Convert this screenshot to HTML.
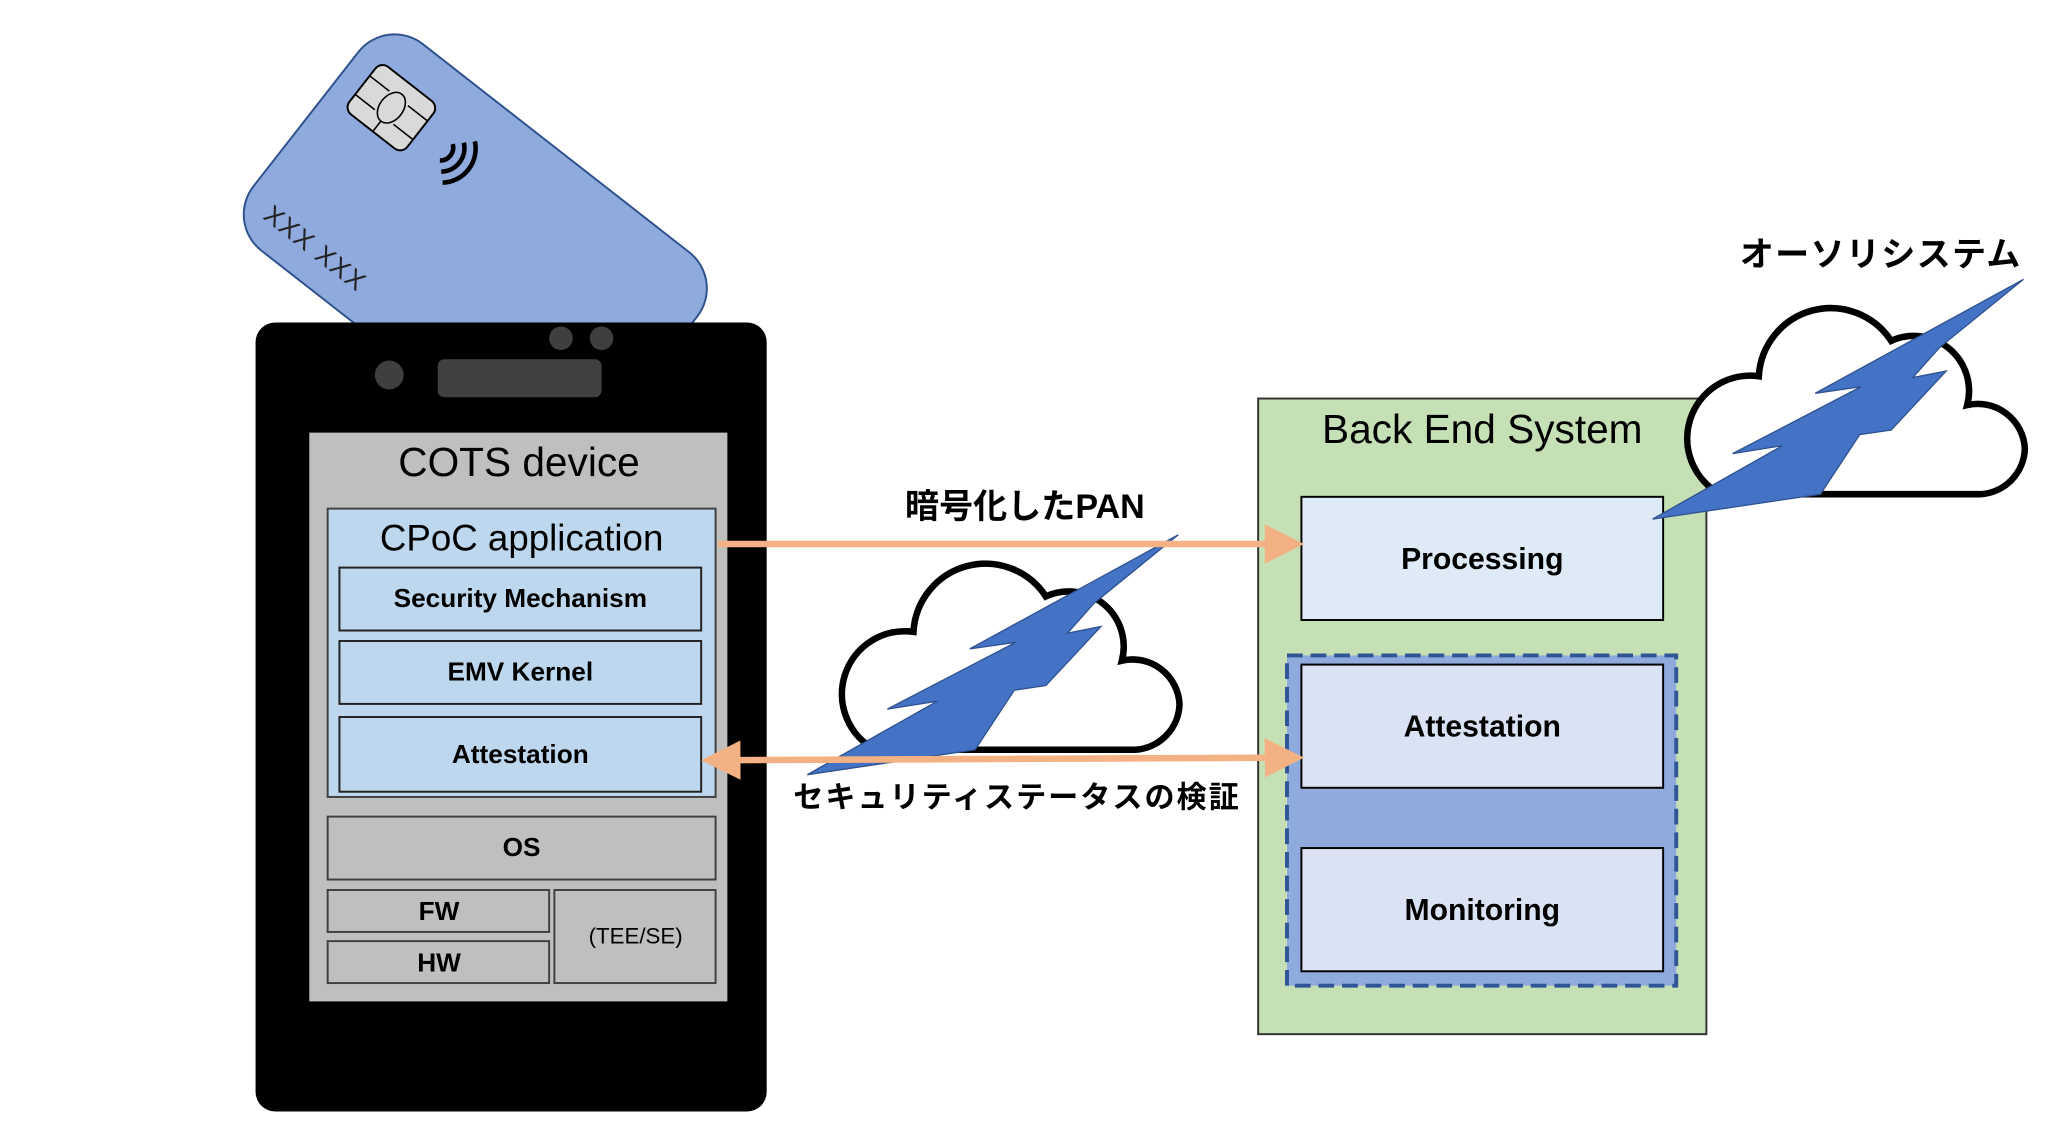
<!DOCTYPE html>
<html><head><meta charset="utf-8"><style>
html,body{margin:0;padding:0;background:#fff;}
svg{display:block;}
text{font-family:"Liberation Sans","Noto Sans CJK JP",sans-serif;}
</style></head><body>
<svg width="2055" height="1147" viewBox="0 0 1568 875" xmlns="http://www.w3.org/2000/svg">
<defs>
<marker id="ah" markerWidth="6" markerHeight="6" refX="5" refY="3" orient="auto" markerUnits="strokeWidth">
<path d="M0,0 L6,3 L0,6 z" fill="#f4b183"/></marker>
<marker id="ahs" markerWidth="6" markerHeight="6" refX="1" refY="3" orient="auto" markerUnits="strokeWidth">
<path d="M6,0 L0,3 L6,6 z" fill="#f4b183"/></marker>
<g id="cloud"><path d="M668 572 A48 48 0 0 1 697 482 A55 55 0 0 1 798 455 A42 42 0 0 1 856 504 A36 36 0 0 1 900 537 A36 36 0 0 1 866 572 Z" fill="#fff" stroke="#000" stroke-width="5"/></g>
<g id="bolt"><polygon points="899,408 835,460 814.5,483 840,478 798,523 774,526.5 744,572 616,591 715,535 677,541 775,490 740,495" fill="#4472c4" stroke="#2f528f" stroke-width="1"/></g>
</defs>

<!-- card -->
<g transform="translate(295,12) rotate(38)">
<rect x="0" y="0" width="328" height="200" rx="35" fill="#8faadc" stroke="#2f528f" stroke-width="1.5"/>
<rect x="18" y="30" width="56" height="46" rx="7" fill="#d9d9d9" stroke="#000" stroke-width="1.5"/>
<ellipse cx="46" cy="53" rx="9" ry="13" fill="#d9d9d9" stroke="#000" stroke-width="1.2"/>
<path d="M18 44 H37 M18 62 H37 M55 44 H74 M55 62 H74 M46 66 V76" stroke="#000" stroke-width="1.2"/>
<g fill="none" stroke="#000" stroke-width="3.5">
<path d="M100 46 A10 10 0 0 1 100 62"/>
<path d="M106 40 A18 18 0 0 1 106 68"/>
<path d="M112 34 A26 26 0 0 1 112 74"/>
</g>
<text x="20" y="180" font-size="20" fill="#222" letter-spacing="1">XXX XXX</text>
</g>

<!-- phone -->
<rect x="195" y="246" width="390" height="602" rx="15" fill="#000"/>
<circle cx="297" cy="286" r="11" fill="#3f3f3f"/>
<rect x="334" y="274" width="125" height="29" rx="5" fill="#404040"/>
<circle cx="428" cy="258" r="9" fill="#3f3f3f"/>
<circle cx="459" cy="258" r="9" fill="#3f3f3f"/>
<rect x="236" y="330" width="319" height="434" fill="#bfbfbf"/>
<text x="396" y="363" font-size="31" text-anchor="middle" fill="#000">COTS device</text>
<rect x="250" y="388" width="296" height="220" fill="#bdd7ee" stroke="#404040" stroke-width="1.5"/>
<text x="398" y="420" font-size="28" text-anchor="middle" fill="#000">CPoC application</text>
<g font-size="20" font-weight="bold" text-anchor="middle" fill="#000">
<rect x="259" y="433" width="276" height="48" fill="#bdd7ee" stroke="#222" stroke-width="1.5"/>
<text x="397" y="463">Security Mechanism</text>
<rect x="259" y="489" width="276" height="48" fill="#bdd7ee" stroke="#222" stroke-width="1.5"/>
<text x="397" y="519">EMV Kernel</text>
<rect x="259" y="547" width="276" height="57" fill="#bdd7ee" stroke="#222" stroke-width="1.5"/>
<text x="397" y="582">Attestation</text>
<rect x="250" y="623" width="296" height="48" fill="#bfbfbf" stroke="#404040" stroke-width="1.5"/>
<text x="398" y="653">OS</text>
<rect x="250" y="679" width="169" height="32" fill="#bfbfbf" stroke="#404040" stroke-width="1.5"/>
<text x="335" y="702">FW</text>
<rect x="250" y="718" width="169" height="32" fill="#bfbfbf" stroke="#404040" stroke-width="1.5"/>
<text x="335" y="741">HW</text>
<rect x="423" y="679" width="123" height="71" fill="#bfbfbf" stroke="#404040" stroke-width="1.5"/>
<text x="485" y="720" font-size="17" font-weight="normal">(TEE/SE)</text>
</g>

<!-- back end -->
<rect x="960" y="304" width="342" height="485" fill="#c5e0b4" stroke="#333" stroke-width="1.5"/>
<text x="1131" y="338" font-size="31" text-anchor="middle" fill="#000">Back End System</text>
<rect x="993" y="379" width="276" height="94" fill="#deebf7" stroke="#000" stroke-width="1.5"/>
<rect x="982" y="500" width="297" height="252" fill="#8faadc" stroke="#2f5597" stroke-width="3" stroke-dasharray="12,6"/>
<rect x="993" y="507" width="276" height="94" fill="#dae3f3" stroke="#000" stroke-width="1.5"/>
<rect x="993" y="647" width="276" height="94" fill="#dae3f3" stroke="#000" stroke-width="1.5"/>
<g font-size="23" font-weight="bold" text-anchor="middle" fill="#000">
<text x="1131" y="434">Processing</text>
<text x="1131" y="562">Attestation</text>
<text x="1131" y="702">Monitoring</text>
</g>

<!-- clouds -->
<use href="#cloud"/>
<use href="#cloud" transform="translate(645,-195)"/>
<use href="#bolt"/>

<!-- arrows -->
<line x1="548" y1="415" x2="990" y2="415" stroke="#f4b183" stroke-width="5" marker-end="url(#ah)"/>
<line x1="540" y1="580" x2="990" y2="578" stroke="#f4b183" stroke-width="5" marker-end="url(#ah)" marker-start="url(#ahs)"/>

<use href="#bolt" transform="translate(645,-195)"/>

<g font-weight="bold" fill="#000">
<text x="782" y="395" font-size="26" text-anchor="middle">暗号化したPAN</text>
<text x="776" y="616" font-size="23" text-anchor="middle" letter-spacing="1.5">セキュリティステータスの検証</text>
<text x="1435" y="203" font-size="26" text-anchor="middle" letter-spacing="1">オーソリシステム</text>
</g>
</svg>
</body></html>
